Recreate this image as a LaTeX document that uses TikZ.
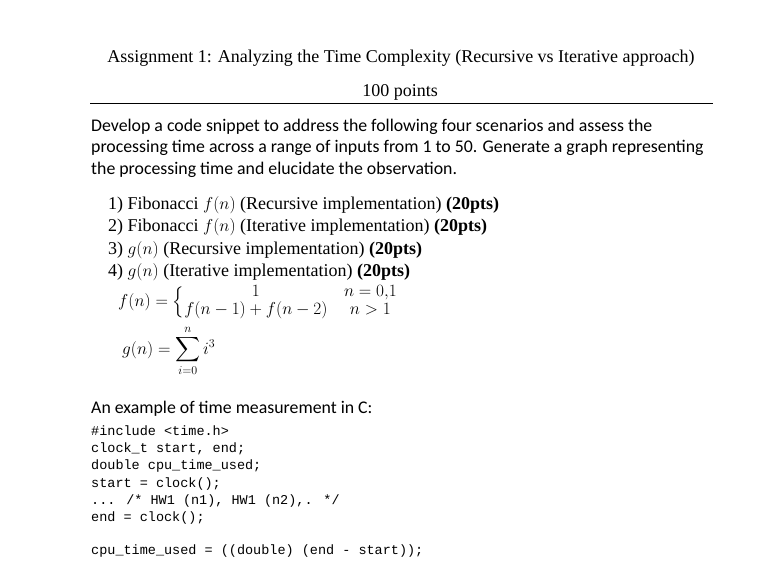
\documentclass[tikz,border=0pt]{standalone}
\usepackage{amsmath}
\usepackage{fontspec}
\setmainfont{Liberation Serif}
\newfontfamily\calib{Carlito}
\newfontfamily\cons{Liberation Mono}
\begin{document}
\begin{tikzpicture}[x=1pt,y=-1pt,
  tx/.style={anchor=west,inner sep=0pt},
  cal/.style={tx,font=\calib\fontsize{17.8}{20}\selectfont},
  ser/.style={tx,font=\fontsize{18}{20}\selectfont},
  code/.style={tx,font=\cons\fontsize{13.5}{16}\selectfont}]
\useasboundingbox (0,0) rectangle (778,582);
\node[ser,anchor=center] (title) at (401,58) {Assignment 1: Analyzing the Time Complexity (Recursive vs Iterative approach)};
\node[ser,anchor=center] (pts) at (400,92) {100 points};
\draw[line width=0.8pt] (90,103) coordinate (r1) -- (713,103) coordinate (r2);
\node[cal] (p1) at (91,127) {Develop a code snippet to address the following four scenarios and assess the};
\node[cal] (p2) at (91,148) {processing time across a range of inputs from 1 to 50. Generate a graph representing};
\node[cal] (p3) at (91,170) {the processing time and elucidate the observation.};
\node[ser] (l1) at (108,205) {1)\ Fibonacci $f(n)$ (Recursive implementation) \textbf{(20pts)}};
\node[ser] (l2) at (108,227) {2)\ Fibonacci $f(n)$ (Iterative implementation) \textbf{(20pts)}};
\node[ser] (l3) at (108,250) {3)\ $g(n)$ (Recursive implementation) \textbf{(20pts)}};
\node[ser] (l4) at (108,272) {4)\ $g(n)$ (Iterative implementation) \textbf{(20pts)}};
\node[tx,font=\fontsize{16.5}{18}\selectfont] (fn) at (118,302) {$f(n)=\left\{\renewcommand{\arraystretch}{0.85}\begin{array}{@{}c@{\quad}c@{}} 1 & n=0{,}1\\ f(n-1)+f(n-2) & n>1\end{array}\right.$};
\node[tx,font=\fontsize{16.5}{18}\selectfont] (gn) at (122,351) {$g(n)=\displaystyle\sum_{i=0}^{n} i^3$};
\node[cal] (ex) at (91,409) {An example of time measurement in C:};
\node[code] (c1) at (91,431) {\#include <time.h>};
\node[code] (c2) at (91,449) {clock\_t start, end;};
\node[code] (c3) at (91,466) {double cpu\_time\_used;};
\node[code] (c4) at (91,484) {start = clock();};
\node[code] (c5) at (91,501) {... /* HW1 (n1), HW1 (n2),. */};
\node[code] (c6) at (91,518) {end = clock();};
\node[code] (c7) at (91,551) {cpu\_time\_used = ((double) (end - start));};
\end{tikzpicture}
\end{document}
